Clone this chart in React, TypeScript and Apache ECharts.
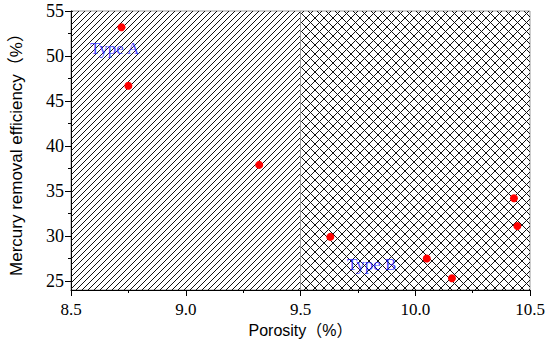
import React, { useEffect, useRef } from "react";
import * as echarts from "echarts";

const porosity = [8.72, 8.75, 9.32, 9.63, 10.05, 10.16, 10.43, 10.445];
const efficiency = [53.2, 46.7, 37.9, 29.9, 27.5, 25.3, 34.2, 31.1];
const regions: [number, number, string][] = [
  [8.5, 9.5, "single"],
  [9.5, 10.5, "cross"],
];
const regionLabels: [number, number, string][] = [
  [8.69, 50.85, "Type A"],
  [9.81, 26.85, "Type B"],
];
const yMajor = [25, 30, 35, 40, 45, 50, 55];
const yMinor = [27.5, 32.5, 37.5, 42.5, 47.5, 52.5];
const X_MIN = 8.5, X_MAX = 10.5, Y_MIN = 24, Y_MAX = 55;

const sans = "'Liberation Sans', Arial, 'Noto Sans CJK SC', sans-serif";
const serif = "'Liberation Serif', 'Times New Roman', serif";

export default function App() {
  const ref = useRef<HTMLDivElement>(null);
  useEffect(() => {
    document.body.style.margin = "0";
    if (!ref.current) return;
    const chart = echarts.init(ref.current, undefined, { renderer: "svg" });
    const hatchColor = "#111";
    const option: any = {
      animation: false,
      grid: {
        left: 71, right: 20, top: 11, bottom: 49, show: true, borderColor: "#999", borderWidth: 1,
        outerBoundsMode: "none", containLabel: false,
      },
      xAxis: {
        type: "value", min: X_MIN, max: X_MAX, interval: 0.5,
        name: "Porosity（%）", nameLocation: "middle", nameGap: 27,
        nameTextStyle: { fontFamily: sans, fontSize: 16, color: "#000" },
        axisLine: { show: true, lineStyle: { color: "#000", width: 1 } },
        axisTick: { show: true, length: 6, lineStyle: { color: "#000" } },
        minorTick: { show: true, splitNumber: 2, length: 3, lineStyle: { color: "#000" } },
        axisLabel: { fontFamily: serif, fontSize: 17, color: "#000", margin: 11, formatter: (v: number) => v.toFixed(1) },
        splitLine: { show: false },
      },
      yAxis: [
        {
          type: "value", min: Y_MIN, max: Y_MAX,
          name: "Mercury removal efficiency（%）", nameLocation: "middle", nameGap: 46,
          nameTextStyle: { fontFamily: sans, fontSize: 17, color: "#000" },
          axisLine: { show: true, lineStyle: { color: "#000", width: 1 } },
          axisTick: { show: true, length: 6, customValues: yMajor, lineStyle: { color: "#000" } },
          axisLabel: { fontFamily: serif, fontSize: 18, color: "#000", margin: 7, customValues: yMajor },
          splitLine: { show: false },
        },
        {
          type: "value", min: Y_MIN, max: Y_MAX, position: "left",
          axisLine: { show: false },
          axisTick: { show: true, length: 3, customValues: yMinor, lineStyle: { color: "#000" } },
          axisLabel: { show: false },
          splitLine: { show: false },
        },
      ],
      series: [
        {
          type: "custom",
          data: regions,
          silent: true,
          z: 1,
          renderItem: (params: any, api: any) => {
            const x0v = api.value(0), x1v = api.value(1);
            const kind = regions[params.dataIndex][2];
            const p0 = api.coord([x0v, Y_MAX]);
            const p1 = api.coord([x1v, Y_MIN]);
            const X0 = p0[0], Y0 = p0[1], X1 = p1[0], Y1 = p1[1];
            const children: any[] = [];
            const style = { stroke: hatchColor, lineWidth: 1 };
            const sp = kind === "single" ? 6 : 9;
            {
              const cStart = Math.ceil((X0 + Y0) / sp) * sp;
              for (let c = cStart; c <= X1 + Y1; c += sp) {
                const xa = Math.max(X0, c - Y1), xb = Math.min(X1, c - Y0);
                if (xb > xa) children.push({ type: "line", shape: { x1: xa, y1: c - xa, x2: xb, y2: c - xb }, style });
              }
            }
            if (kind === "cross") {
              const cStart = Math.ceil((X0 - Y1) / sp) * sp;
              for (let c = cStart; c <= X1 - Y0; c += sp) {
                const xa = Math.max(X0, Y0 + c), xb = Math.min(X1, Y1 + c);
                if (xb > xa) children.push({ type: "line", shape: { x1: xa, y1: xa - c, x2: xb, y2: xb - c }, style });
              }
            }
            return { type: "group", children };
          },
        },
        {
          type: "scatter",
          data: porosity.map((x, i) => [x, efficiency[i]]),
          symbolSize: 8,
          itemStyle: { color: "#ff0000", opacity: 1 },
          z: 5,
          markLine: {
            silent: true, symbol: "none", label: { show: false },
            lineStyle: { color: "#999", type: "solid", width: 1 },
            data: [{ xAxis: 9.5 }],
          },
        },
        {
          type: "scatter",
          data: regionLabels.map((d) => ({ value: [d[0], d[1]], name: d[2] })),
          symbolSize: 0,
          z: 6,
          label: {
            show: true, position: "inside", formatter: (p: any) => p.name,
            fontFamily: serif, fontSize: 17, color: "#1a1aff",
          },
        },
      ],
    };
    chart.setOption(option);
    return () => chart.dispose();
  }, []);
  return <div ref={ref} style={{ width: 550, height: 339 }} />;
}
